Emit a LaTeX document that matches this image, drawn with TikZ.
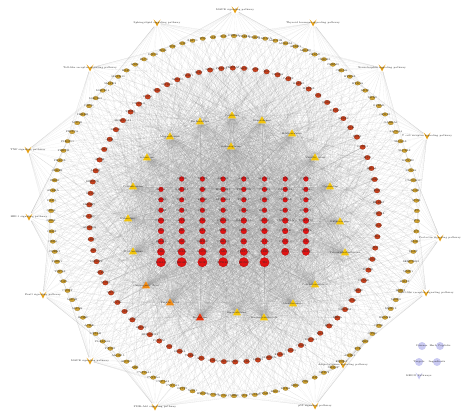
\documentclass[tikz,border=0pt]{standalone}
\usepackage{tikz}
\usetikzlibrary{shapes}
\pgfdeclarelayer{bg}
\pgfsetlayers{bg,main}
\definecolor{outercol}{HTML}{CFA12E}
\definecolor{innercol}{HTML}{C8401C}
\definecolor{hubcol}{HTML}{E01414}
\definecolor{cpdcol}{HTML}{F2C40C}
\definecolor{acidcol}{HTML}{F08A14}
\definecolor{redcpd}{HTML}{E8300C}
\definecolor{pathcol}{HTML}{E6A117}
\definecolor{legcol}{HTML}{CACAF2}
\definecolor{linkcol}{HTML}{8C8C8C}

\tikzset{
  lbl/.style={font=\fontsize{2.5}{3}\selectfont, text=black!85, inner sep=0pt},
  outergene/.style={ellipse, fill=outercol, draw=outercol!70!black, line width=0.2pt,
    minimum width=5.3pt, minimum height=3.6pt, inner sep=0pt},
  innergene/.style={ellipse, fill=innercol, draw=innercol!70!black, line width=0.2pt,
    minimum width=5.6pt, minimum height=4.6pt, inner sep=0pt},
  hub/.style={circle, fill=hubcol, draw=hubcol!75!black, line width=0.2pt, inner sep=0pt},
  cpd/.style={regular polygon, regular polygon sides=3, fill=#1, inner sep=0pt, minimum size=9.5pt},
  kegg/.style={rectangle, minimum size=7pt, inner sep=0pt,
    path picture={\fill[#1] (path picture bounding box.north west) -- (path picture bounding box.center)
      -- (path picture bounding box.north east) -- (path picture bounding box.south) -- cycle;}},
  kegg/.default=pathcol,
  legitem/.style={circle, fill=legcol, minimum size=8pt, inner sep=0pt},
  link/.style={draw=linkcol, line width=0.1pt, opacity=0.3},
  fan/.style={draw=linkcol, line width=0.1pt, opacity=0.22},
}

\begin{document}
\begin{tikzpicture}[x=1pt,y=-1pt]
  \useasboundingbox (0,0) rectangle (474,420);

  % outer ring of targets
  \foreach \g [count=\j] in {PDE4A,PDE4B,PDE4D,ADRA1A,ADRA1B,ADRA2A,ADRB1,ADRB2,CHRM1,CHRM2,
    CHRM3,CHRM4,HTR2A,HTR1A,DRD1,DRD2,OPRM1,OPRD1,GABRA1,SLC6A4,SLC6A3,SLC6A2,KCNH2,SCN5A,
    CACNA1C,NOS2,NOS3,F2,F10,F7,PLAU,PLAT,SERPINE1,MMP1,MMP2,MMP3,MMP9,MMP13,ELANE,CTSD,
    CTSK,REN,ACE,AGTR1,EDNRA,NR3C1,NR3C2,AR,PGR,ESR2,RXRA,RARA,PPARA,PPARD,VDR,THRB,NCOA1,
    NCOA2,HMOX1,NQO1,GSTP1,CYP1A1,CYP1A2,CYP3A4,CYP19A1,AHR,ALOX5,ALOX15,PTGS1,PLA2G4A,
    LTA4H,ACHE,BCHE,MAOA,MAOB,COMT,TOP1,TOP2A,PARP1,CHEK1,CDK1,CDK2,CDK4,CDK6,PLK1,AURKA,
    WEE1,GSK3B,PRKCA,PRKCB,PIK3CG,PIK3CA,MTOR,IKBKB,CHUK,MAP2K1,MAPK14,MAPK8,MAPK10,RAF1,
    KDR,FLT1,IGF1R,INSR,SYK,LCK,ZAP70,ITK,LIF,FOS}
    \node[outergene, label={[lbl]center:\g}] (o\j)
      at ({234+183*cos(90-(\j-1)*3.2727)},{216-180*sin(90-(\j-1)*3.2727)}) {};

  % inner ring of targets
  \foreach \g [count=\j] in {AKT1,TNF,IL6,VEGFA,CASP3,MAPK1,MAPK3,JUN,EGFR,PTGS2,STAT3,IL1B,
    TP53,CCND1,MYC,HIF1A,ESR1,EGF,ERBB2,CXCL8,IL10,IL4,IL2,IFNG,ICAM1,VCAM1,SELE,CCL2,NFKBIA,
    RELA,BCL2,BAX,BCL2L1,CASP8,CASP9,FASLG,CDKN1A,MDM2,RB1,E2F1,CTNNB1,CDH1,SPP1,TGFB1,SMAD3,
    FN1,COL1A1,HSP90AA1,HSPA5,SOD1,CAT,GPX1,MPO,NOX4,IGF2,IGFBP3,INS,LEP,ADIPOQ,PPARG,SREBF1,
    FASN,HMGCR,LDLR,APOB,CRP,ALB,KNG1,SERPINA1,TIMP1,CD40LG,IL17A,TLR4,MYD88,NLRP3,CASP1,IRF1,
    SIRT1,FOXO3,CHRNA7}
    \node[innergene, label={[lbl]center:\g}] (r\j)
      at ({234+145*cos(86-(\j-1)*4.5)},{215-147*sin(86-(\j-1)*4.5)}) {};

  % hub targets in the middle
  \foreach \g [count=\k] in {NR1I2,NR1I3,ABCB1,ABCG2,SLC2A4,GCK,PTPN1,DPP4,AKR1B1,XDH,HSD11B1,
    PRKACA,CALM1,CAMK2A,ATF2,CREB1,ELK1,EIF4E,RPS6KB1,PDPK1,PTEN,CDC25A,CCNB1,CCNA2,CCNE1,CDK5,
    TYMS,DHFR,HDAC1,HDAC2,DNMT1,BRCA1,ATM,ATR,CHEK2,GADD45A,SESN1,TNFRSF1A,TNFSF10,FAS,BID,BAD,
    XIAP,BIRC5,MCL1,CFLAR,TRAF6,IRAK4,NOD2,RIPK2,CARD9,IL18,IL12A,CXCL10,CCL5,PRL,PRLR,SOCS3,
    JAK2,STAT5A,GRB2,SOS1,HRAS,KRAS,BRAF,NGF,NTRK1,BDNF,TH} {
    \pgfmathtruncatemacro\row{div(\k,8)}
    \pgfmathtruncatemacro\col{mod(\k,8)}
    \pgfmathsetmacro\sz{\row<4 ? 4.8 : (\row<7 ? 5.8 : (\row<8 ? 7.4 : 9.4))}
    \node[hub, minimum size=\sz pt, label={[lbl]center:\g}] (h\k)
      at ({161+20.7*\col},{179+10.4*\row}) {};
  }

  % ingredients
  \foreach \x/\y/\c/\n [count=\i] in {170/137/cpdcol/Magnoflorine, 200/122/cpdcol/Berberastine,
    232/116/cpdcol/Coptisine, 262/121/cpdcol/Jatrorrhizine, 231/147/cpdcol/Kokusaginine,
    292/134/cpdcol/Berberrubine, 315/158/cpdcol/{Vanillic Acid}, 330/187/cpdcol/Obacunone,
    340/222/cpdcol/Rutaecarpine, 345/253/cpdcol/Tetrahydroberberine,
    315/285/cpdcol/{Corchoionoside C}, 293/304/cpdcol/Moupinamide,
    264/318/cpdcol/Magnograndiolide, 237/313/cpdcol/Epiberberine, 200/318/redcpd/Berberine,
    170/303/acidcol/{Ferulic Acid}, 146/286/acidcol/{Chlorogenic Acid},
    133/252/cpdcol/{(R)-Canadine}, 128/219/cpdcol/Palmatine, 133/187/cpdcol/Columbamine,
    147/158/cpdcol/Dauricine}
    \node[cpd=\c, label={[lbl]center:{\n}}] (c\i) at (\x,\y) {};

  % KEGG pathways
  \foreach \x/\y/\n [count=\p] in {235/10/{MAPK signaling pathway},
    313/23/{Thyroid hormone signaling pathway}, 382/68/{Neurotrophin signaling pathway},
    427/136/{T cell receptor signaling pathway}, 440/238/{Prolactin signaling pathway},
    426/293/{NOD-like receptor signaling pathway}, 343/365/{Adipocytokine signaling pathway},
    315/406/{p53 signaling pathway}, 155/407/{PI3K-Akt signaling pathway},
    90/361/{MAPK signaling pathway}, 43/295/{FoxO signaling pathway},
    29/217/{HIF-1 signaling pathway}, 28/150/{TNF signaling pathway},
    90/68/{Toll-like receptor signaling pathway}, 157/23/{Sphingolipid signaling pathway}}
    \node[kegg, label={[lbl]center:{\n}}] (k\p) at (\x,\y) {};

  % legend
  \node[legitem, label={[lbl]center:Disease}] (lgDis) at (422,346) {};
  \node[legitem, label={[lbl]center:Herb Coptidis}] (lgHerb) at (440,346) {};
  \node[legitem, label={[lbl]center:Targets}] (lgTar) at (419,362) {};
  \node[legitem, label={[lbl]center:Ingredients}] (lgIng) at (437,362) {};
  \node[kegg=legcol, label={[lbl]center:KEGG Pathways}] (lgKegg) at (419,376) {};

  % connectors
  \begin{pgfonlayer}{bg}
    \foreach \i in {1,...,21} {
      \foreach \j in {1,...,80} {
        \pgfmathtruncatemacro\t{mod(\j+\i,2)}
        \ifnum\t=0 \draw[link] (c\i) -- (r\j); \fi
      }
      \foreach \k in {1,...,69} {
        \pgfmathtruncatemacro\t{mod(\k+\i,3)}
        \ifnum\t>0 \draw[link] (c\i) -- (h\k); \fi
      }
      \foreach \j in {1,...,110} {
        \pgfmathtruncatemacro\t{mod(\j+5*\i,3)}
        \ifnum\t=0 \draw[link] (c\i) -- (o\j); \fi
      }
    }
    % target to target
    \foreach \j in {1,...,80} {
      \foreach \k in {1,...,69} {
        \pgfmathtruncatemacro\t{mod(\j+2*\k,7)}
        \ifnum\t=0 \draw[fan] (r\j) -- (h\k); \fi
      }
    }
    \foreach \p/\m in {1/1,2/8,3/15,4/22,5/30,6/35,7/45,8/49,9/63,10/70,11/77,12/84,13/89,14/98,15/104} {
      \foreach \d in {-9,...,9} {
        \pgfmathtruncatemacro\j{mod(\m+\d+109,110)+1}
        \draw[fan] (k\p) -- (o\j);
      }
      \foreach \j in {1,...,110} {
        \pgfmathtruncatemacro\t{mod(\j+4*\p,14)}
        \ifnum\t=0 \draw[fan] (k\p) -- (o\j); \fi
      }
    }
  \end{pgfonlayer}
\end{tikzpicture}
\end{document}
